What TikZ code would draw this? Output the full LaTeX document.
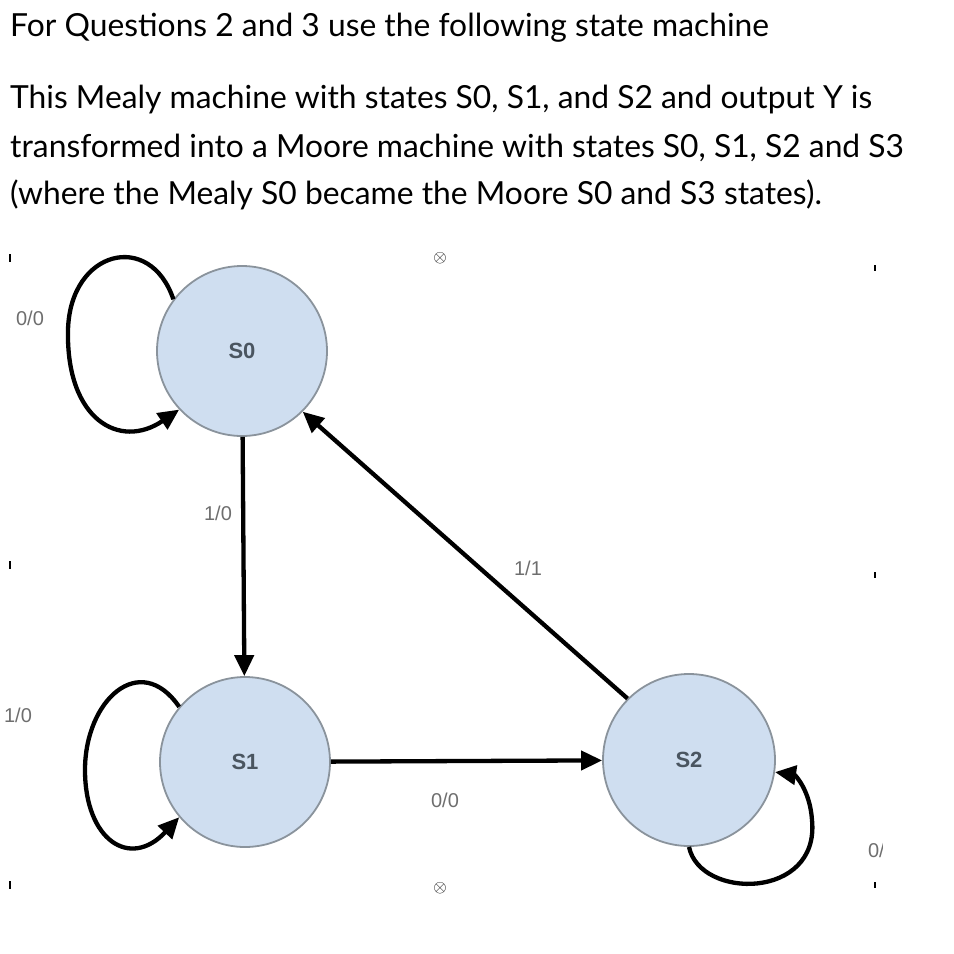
\documentclass[tikz,border=0pt]{standalone}
\usepackage{fontspec}
\setmainfont{Lato}
\newfontfamily\arial{Liberation Sans}
\usetikzlibrary{arrows.meta}
\definecolor{stfill}{HTML}{CFDEF0}
\definecolor{stdraw}{HTML}{8A939C}
\definecolor{lbl}{HTML}{6E6E6E}
\definecolor{stl}{HTML}{4A5560}
\begin{document}
\begin{tikzpicture}[x=1pt,y=-1pt,
  state/.style={circle,fill=stfill,draw=stdraw,line width=1.8pt,minimum size=170pt,inner sep=0pt,font=\arial\bfseries\fontsize{22}{22}\selectfont,text=stl},
  tr/.style={line width=4.3pt,-{Triangle[length=21pt,width=19pt]}},
  lb/.style={font=\arial\fontsize{20}{20}\selectfont,text=lbl},
  hd/.style={anchor=west,font=\fontsize{31.8}{34}\selectfont,inner sep=0pt}]
\useasboundingbox (0,0) rectangle (954,954);
\node[hd] (h1) at (10,28) {For Questions 2 and 3 use the following state machine};
\node[hd] (h2) at (10,100) {This Mealy machine with states S0, S1, and S2 and output Y is};
\node[hd] (h3) at (10,148) {transformed into a Moore machine with states S0, S1, S2 and S3};
\node[hd] (h4) at (10,195) {(where the Mealy S0 became the Moore S0 and S3 states).};
\node[state] (s0) at (242,351) {S0};
\node[state] (s1) at (245,762) {S1};
\node[state,minimum size=172pt] (s2) at (689,760) {S2};
\draw[tr] (s0) -- (s1);
\draw[tr] (s1) -- (s2);
\draw[tr] (s2.135) -- (s0.-45);
\draw[tr] (s0.143) .. controls (150,230) and (70,250) .. (68,330) .. controls (66,420) and (120,450) .. (s0.-137);
\draw[tr] (s1.140) .. controls (140,650) and (85,700) .. (85,770) .. controls (85,840) and (130,870) .. (s1.-140);
\draw[tr] (s2.-90) .. controls (700,900) and (820,900) .. (812,820) .. controls (810,790) and (795,775) .. (s2.-8);
\node[lb] (l1) at (30,318) {0/0};
\node[lb] (l2) at (18,715) {1/0};
\node[lb] (l3) at (218,513) {1/0};
\node[lb] (l4) at (528,568) {1/1};
\node[lb] (l5) at (445,800) {0/0};
\begin{scope}
\clip (840,830) rectangle (882,870);
\node[lb] (l6) at (882,850) {0/0};
\end{scope}
\node[font=\fontsize{16}{16}\selectfont] (x1) at (440,258) {$\otimes$};
\node[font=\fontsize{16}{16}\selectfont] (x2) at (440,888) {$\otimes$};
\foreach \y in {258,565,885} \fill (9,\y-4) rectangle (11,\y+4);
\foreach \y in {268,575,885} \fill (874,\y-3) rectangle (876,\y+3);
\end{tikzpicture}
\end{document}
